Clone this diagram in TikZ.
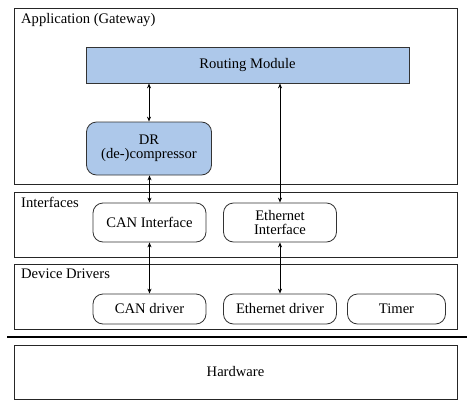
\documentclass[tikz,border=0pt]{standalone}
\usepackage{fontspec}
\setmainfont{Liberation Serif}
\usetikzlibrary{arrows.meta}
\definecolor{routeblue}{HTML}{ADC8EA}
\tikzset{
  layer/.style={draw=black!85,line width=1pt,anchor=north west,inner sep=0},
  layername/.style={anchor=north west,inner sep=0},
  module/.style={draw=black!80,line width=0.8pt,rounded corners=10pt,align=center,inner sep=0},
  link/.style={{Stealth[length=5pt,width=4pt]}-{Stealth[length=5pt,width=4pt]},line width=0.9pt}
}
\begin{document}
\begin{tikzpicture}[x=1pt,y=-1pt,font=\fontsize{14.6}{16}\selectfont]
\useasboundingbox (0,0) rectangle (474,407);
% layers
\node[layer,minimum width=443pt,minimum height=176pt] (app) at (14,8) {};
\node[layername] (appname) at (21,13) {Application (Gateway)};
\node[layer,minimum width=443pt,minimum height=65pt] (itf) at (14,192) {};
\node[layername] (itfname) at (21,197) {Interfaces};
\node[layer,minimum width=443pt,minimum height=65pt] (drv) at (14,264) {};
\node[layername] (drvname) at (21,269) {Device Drivers};
\draw[line width=2pt] (7,337) -- (467,337);
\node[layer,minimum width=443pt,minimum height=54pt] (hw) at (14,345) {};
\node (hwname) at (235.5,372) {Hardware};
% modules
\node[draw=black!80,line width=0.8pt,fill=routeblue,minimum width=323pt,minimum height=36pt,inner sep=0] (route) at (247.5,65) {Routing Module};
\node[module,fill=routeblue,minimum width=125pt,minimum height=53pt] (dr) at (149,148.5) {DR\\[-2pt](de-)compressor};
\node[module,minimum width=113pt,minimum height=39pt] (canif) at (149.5,222.5) {CAN Interface};
\node[module,minimum width=113pt,minimum height=39pt] (ethif) at (280,222.5) {Ethernet\\[-2pt]Interface};
\node[module,minimum width=113pt,minimum height=30pt] (candrv) at (149.5,309) {CAN driver};
\node[module,minimum width=113pt,minimum height=30pt] (ethdrv) at (280,309) {Ethernet driver};
\node[module,minimum width=98pt,minimum height=30pt] (timer) at (396.5,309) {Timer};
% links
\draw[link] (route.south -| dr) -- (dr.north);
\draw[link] (dr.south -| canif) -- (canif.north);
\draw[link] (canif.south) -- (candrv.north);
\draw[link] (route.south -| ethif) -- (ethif.north);
\draw[link] (ethif.south) -- (ethdrv.north);
\end{tikzpicture}
\end{document}
